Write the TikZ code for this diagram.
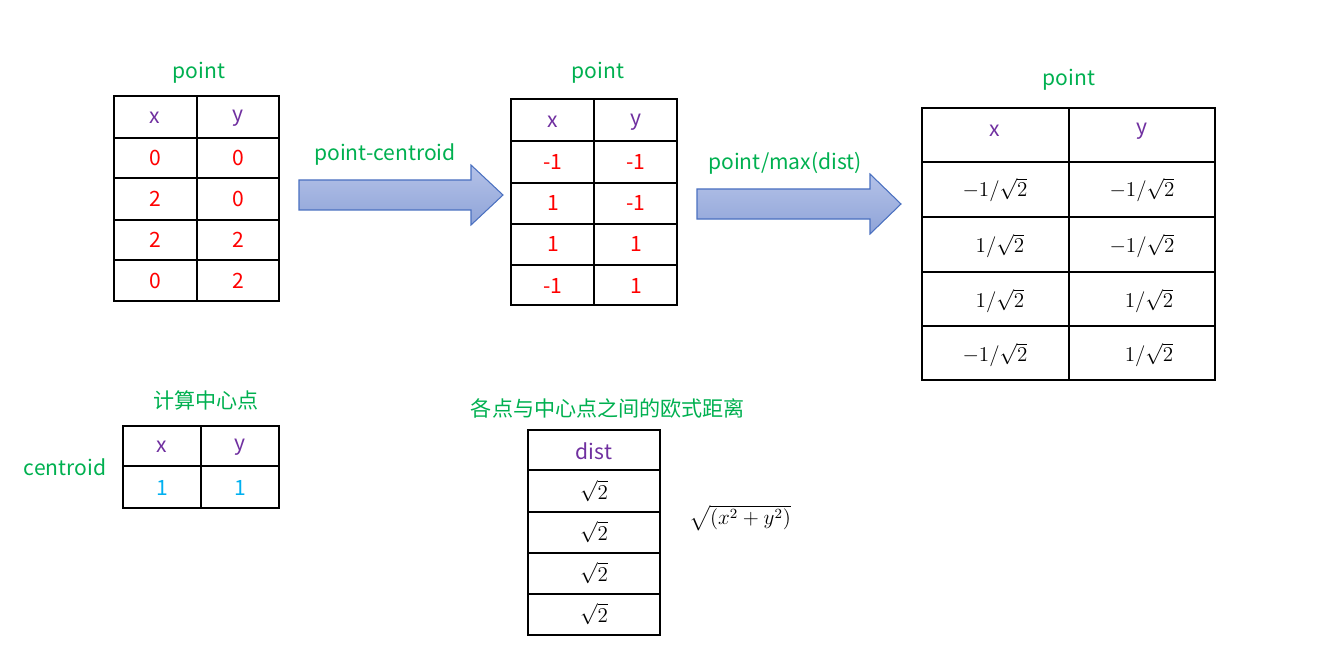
\documentclass[tikz,border=0pt]{standalone}
\usepackage{fontspec}
\setmainfont{Noto Sans CJK SC}
\usepackage{amsmath}
\usetikzlibrary{shapes.arrows}
\definecolor{gr}{HTML}{00B050}
\definecolor{pu}{HTML}{7030A0}
\definecolor{rd}{HTML}{FF0000}
\definecolor{cy}{HTML}{00B0F0}
\definecolor{ab}{HTML}{8FA4D8}
\definecolor{at}{HTML}{B4C2E8}
\definecolor{ae}{HTML}{4A70C0}
\begin{document}
\begin{tikzpicture}[x=0.02cm,y=-0.02cm,
  lab/.style={text=gr,font=\fontsize{12}{14}\selectfont,inner sep=0},
  hd/.style={text=pu,font=\fontsize{12}{14}\selectfont,inner sep=0},
  rv/.style={text=rd,font=\fontsize{12}{14}\selectfont,inner sep=0},
  mv/.style={font=\fontsize{12}{14}\selectfont,inner sep=0},
  grid/.style={black,line width=0.8pt},
  arr/.style={draw=ae,line width=0.6pt,top color=at,bottom color=ab}]
\useasboundingbox (0,0) rectangle (1341,662);
% table 1
\draw[grid] (114,96) rectangle (279,301);
\draw[grid] (197,96)--(197,301);
\foreach \y in {138,178,220,260} \draw[grid] (114,\y)--(279,\y);
\node[lab] (p1) at (199,73) {point};
\node[hd] (t1x) at (155,118) {x}; \node[hd] (t1y) at (238,118) {y};
\node[rv] (a1) at (155,158) {0}; \node[rv] (a2) at (238,158) {0};
\node[rv] (a3) at (155,199) {2}; \node[rv] (a4) at (238,199) {0};
\node[rv] (a5) at (155,240) {2}; \node[rv] (a6) at (238,240) {2};
\node[rv] (a7) at (155,281) {0}; \node[rv] (a8) at (238,281) {2};
% arrow 1
\draw[arr] (299,180)--(471,180)--(471,165)--(503,195)--(471,225)--(471,210)--(299,210)--cycle;
\node[lab] (l1) at (385,155) {point-centroid};
% table 2
\draw[grid] (511,99) rectangle (677,305);
\draw[grid] (594,99)--(594,305);
\foreach \y in {141,183,224,265} \draw[grid] (511,\y)--(677,\y);
\node[lab] (p2) at (598,73) {point};
\node[hd] (t2x) at (553,122) {x}; \node[hd] (t2y) at (636,122) {y};
\node[rv] (b1) at (553,162) {-1}; \node[rv] (b2) at (636,162) {-1};
\node[rv] (b3) at (553,203) {1}; \node[rv] (b4) at (636,203) {-1};
\node[rv] (b5) at (553,244) {1}; \node[rv] (b6) at (636,244) {1};
\node[rv] (b7) at (553,286) {-1}; \node[rv] (b8) at (636,286) {1};
% arrow 2
\draw[arr] (697,189)--(870,189)--(870,174)--(901,204)--(870,234)--(870,219)--(697,219)--cycle;
\node[lab] (l2) at (785,163) {point/max(dist)};
% table 3
\draw[grid] (922,108) rectangle (1215,380);
\draw[grid] (1069,108)--(1069,380);
\foreach \y in {162,217,272,326} \draw[grid] (922,\y)--(1215,\y);
\node[lab] (p3) at (1069,80) {point};
\node[hd] (t3x) at (995,131) {x}; \node[hd] (t3y) at (1142,131) {y};
\node[mv] (c1) at (995,190) {$-1/\sqrt{2}$}; \node[mv] (c2) at (1142,190) {$-1/\sqrt{2}$};
\node[mv] (c3) at (1000,246) {$1/\sqrt{2}$}; \node[mv] (c4) at (1142,246) {$-1/\sqrt{2}$};
\node[mv] (c5) at (1000,301) {$1/\sqrt{2}$}; \node[mv] (c6) at (1149,301) {$1/\sqrt{2}$};
\node[mv] (c7) at (995,355) {$-1/\sqrt{2}$}; \node[mv] (c8) at (1149,355) {$1/\sqrt{2}$};
% centroid
\node[lab] (cc) at (206,400) {计算中心点};
\node[lab] (cn) at (65,467) {centroid};
\draw[grid] (123,426) rectangle (279,508);
\draw[grid] (201,426)--(201,508);
\draw[grid] (123,466)--(279,466);
\node[hd] (t4x) at (162,447) {x}; \node[hd] (t4y) at (240,447) {y};
\node[text=cy,font=\fontsize{12}{14}\selectfont,inner sep=0] (d1) at (162,488) {1};
\node[text=cy,font=\fontsize{12}{14}\selectfont,inner sep=0] (d2) at (240,488) {1};
% dist
\node[lab] (dt) at (608,408) {各点与中心点之间的欧式距离};
\draw[grid] (528,430) rectangle (660,635);
\foreach \y in {470,512,553,594} \draw[grid] (528,\y)--(660,\y);
\node[hd] (dh) at (594,451) {dist};
\foreach \y/\n in {491/e1,532/e2,573/e3,614/e4} \node[mv] (\n) at (594,\y) {$\sqrt{2}$};
\node[mv] (f) at (740,518) {\large$\sqrt{\left(x^{2}+y^{2}\right)}$};
\end{tikzpicture}
\end{document}
